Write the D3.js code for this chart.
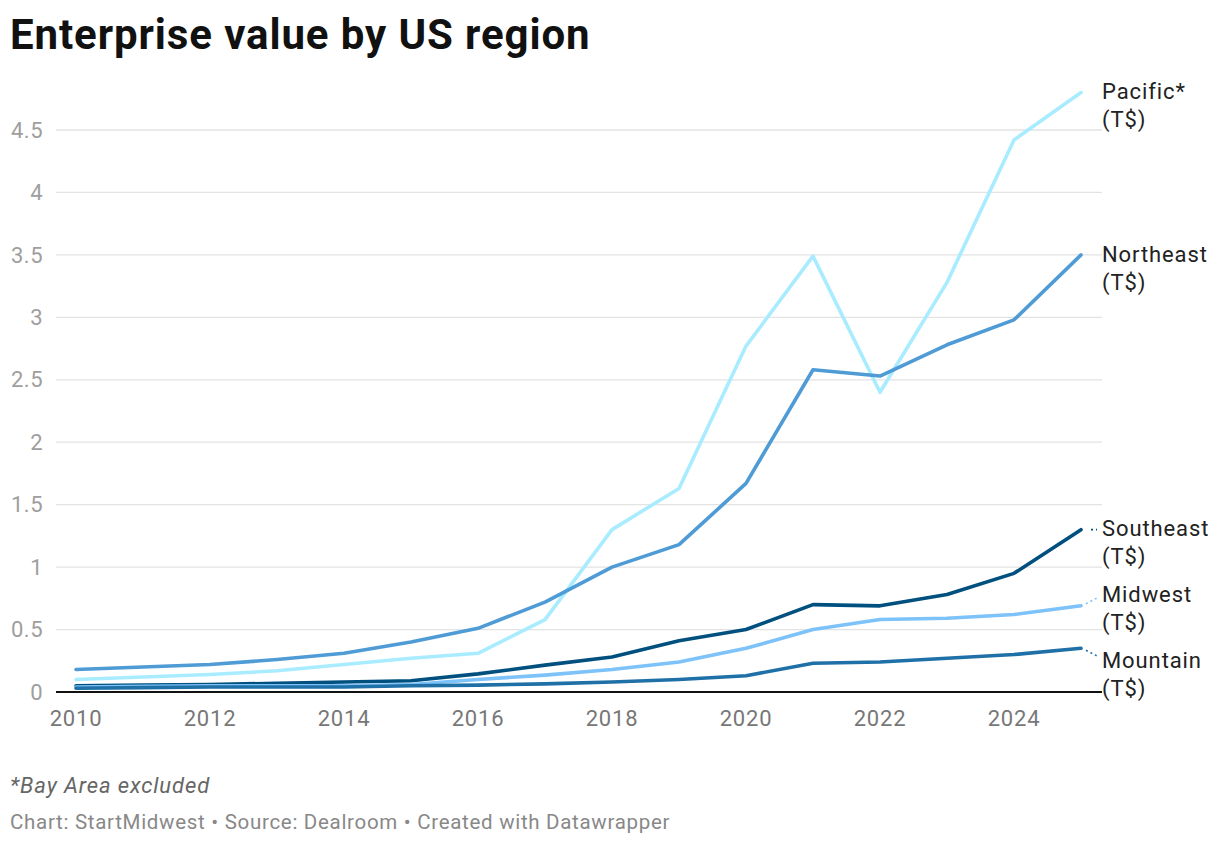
<!DOCTYPE html>
<html><head><meta charset="utf-8">
<script src="https://cdn.jsdelivr.net/npm/d3@7"></script>
<style>
body{margin:0;background:#fff;font-family:Roboto,"Noto Sans",sans-serif;}
</style></head><body>
<svg id="chart" width="1220" height="846"></svg>
<script>
const years = d3.range(2010, 2026);
const seriesNames = ["Pacific*", "Northeast", "Southeast", "Midwest", "Mountain"];
const pacific   = [0.10,0.12,0.14,0.17,0.22,0.27,0.31,0.58,1.30,1.63,2.77,3.49,2.40,3.28,4.42,4.80];
const northeast = [0.18,0.20,0.22,0.26,0.31,0.40,0.51,0.72,1.00,1.18,1.67,2.58,2.53,2.78,2.98,3.50];
const southeast = [0.05,0.055,0.06,0.07,0.08,0.09,0.145,0.215,0.28,0.41,0.50,0.70,0.69,0.78,0.95,1.30];
const midwest   = [0.04,0.045,0.05,0.05,0.05,0.06,0.10,0.135,0.18,0.24,0.35,0.50,0.58,0.59,0.62,0.69];
const mountain  = [0.03,0.035,0.04,0.04,0.04,0.05,0.055,0.065,0.08,0.10,0.13,0.23,0.24,0.27,0.30,0.35];
const seriesValues = [pacific, northeast, southeast, midwest, mountain];
const colors = ["#a9ecff", "#4e9bd6", "#00507f", "#7dc2f9", "#1f70a7"];
const yTicks = [0,0.5,1,1.5,2,2.5,3,3.5,4,4.5];
const xTicks = [2010,2012,2014,2016,2018,2020,2022,2024];
const unitLabel = "(T$)";
const labelY = [91, 254, 528, 594, 660]; // label line-1 centers (px) to avoid overlap
const showConnector = [false, false, true, true, true];

const svg = d3.select("#chart");
const x = d3.scaleLinear().domain([2010, 2025]).range([76, 1081]);
const y = d3.scaleLinear().domain([0, 4.5]).range([692, 130]);
const gridX0 = 56, gridX1 = 1102;

svg.append("text").attr("x", 10).attr("y", 49)
  .attr("font-family", "Roboto").attr("font-weight", 700).attr("font-size", 42)
  .attr("letter-spacing", 0.9)
  .attr("fill", "#111").text("Enterprise value by US region");

// grid
const yAxis = svg.append("g");
yTicks.forEach(t => {
  if (t !== 0) yAxis.append("line").attr("x1", gridX0).attr("x2", gridX1)
     .attr("y1", y(t)).attr("y2", y(t)).attr("stroke", "#e3e3e3").attr("stroke-width", 1.3);
  yAxis.append("text").attr("x", 43).attr("y", y(t)).attr("dy", "0.35em")
     .attr("text-anchor", "end").attr("font-size", 22).attr("letter-spacing", 0.5).attr("fill", "#9e9e9e")
     .text(d3.format("~g")(t));
});
xTicks.forEach(t => {
  svg.append("text").attr("x", x(t)).attr("y", 726).attr("text-anchor", "middle")
    .attr("font-size", 22).attr("letter-spacing", 0.8).attr("fill", "#777").text(t);
});

const line = d3.line().x((d, i) => x(years[i])).y(d => y(d));
seriesValues.forEach((vals, k) => {
  svg.append("path").datum(vals).attr("d", line).attr("fill", "none")
    .attr("stroke", colors[k]).attr("stroke-width", 3.6)
    .attr("stroke-linejoin", "round").attr("stroke-linecap", "round");
});

// baseline
svg.append("line").attr("x1", gridX0).attr("x2", gridX1).attr("y1", y(0)).attr("y2", y(0))
  .attr("stroke", "#111").attr("stroke-width", 2);

// labels
seriesValues.forEach((vals, k) => {
  const endY = y(vals[vals.length - 1]);
  const ly = labelY[k];
  if (showConnector[k]) {
    if (Math.abs(endY - ly) > 3) {
      svg.append("line").attr("x1", x(2025) + 5).attr("y1", endY + (endY > ly ? -2 : 2))
        .attr("x2", 1097).attr("y2", ly + (endY > ly ? 4 : -4))
        .attr("stroke", colors[k]).attr("stroke-width", 1.6).attr("stroke-dasharray", "2,3");
    } else {
      svg.append("line").attr("x1", x(2025) + 10).attr("y1", endY)
        .attr("x2", 1097).attr("y2", endY)
        .attr("stroke", colors[k]).attr("stroke-width", 1.6).attr("stroke-dasharray", "2,3");
    }
  }
  const t = svg.append("text").attr("x", 1102).attr("y", ly).attr("font-size", 22)
    .attr("letter-spacing", 0.9).attr("fill", "#222");
  t.append("tspan").attr("x", 1102).attr("dy", "0.35em").text(seriesNames[k]);
  t.append("tspan").attr("x", 1102).attr("dy", "1.27em").text(unitLabel);
});

svg.append("text").attr("x", 10).attr("y", 793).attr("font-size", 22).attr("font-style", "italic")
  .attr("letter-spacing", 0.9).attr("fill", "#666").text("*Bay Area excluded");
svg.append("text").attr("x", 10).attr("y", 829).attr("font-size", 20.5).attr("letter-spacing", 0.7)
  .attr("fill", "#888").text("Chart: StartMidwest • Source: Dealroom • Created with Datawrapper");
</script>
</body></html>
